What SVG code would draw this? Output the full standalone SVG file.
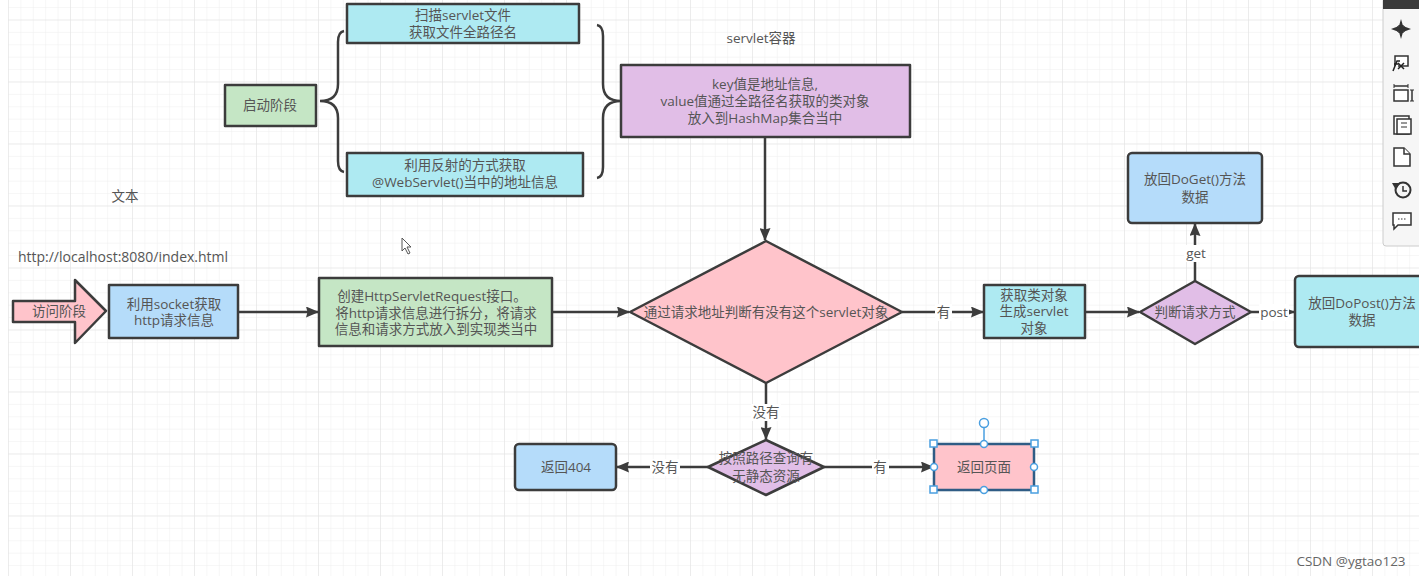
<svg xmlns="http://www.w3.org/2000/svg" width="1419" height="579" viewBox="0 0 1419 579">
<style>
text{font-family:"Open Sans","Noto Sans CJK SC",sans-serif;font-size:13.5px;fill:#555;text-anchor:middle}
.n{stroke:#3c3c3c;stroke-width:2.5;stroke-linejoin:round}
.g{fill:#c5e6c5}.c{fill:#aeeaf2}.b{fill:#b5dcfa}.p{fill:#e1bee7}.r{fill:#ffc4cb}
.l{fill:none;stroke:#3c3c3c;stroke-width:2.5}
.lb{fill:#fff}
.h{fill:#fff;stroke:#4a9fe0;stroke-width:1.5}
.i{fill:#fff;stroke:#333;stroke-width:1.5}
</style>
<defs>
<pattern id="minor" x="8" y="19.5" width="12.4" height="12.4" patternUnits="userSpaceOnUse"><path d="M0 0V12.4M0 0H12.4" fill="none" stroke="#eeeeee" stroke-width="1"/></pattern>
<pattern id="major" x="8" y="19.5" width="62" height="62" patternUnits="userSpaceOnUse"><path d="M0 0V62M0 0H62" fill="none" stroke="#e2e2e2" stroke-width="1"/></pattern>
<marker id="a" viewBox="0 0 13 11" refX="12" refY="5.5" markerWidth="13" markerHeight="11" markerUnits="userSpaceOnUse" orient="auto"><path d="M0 0L13 5.5L0 11L1.500 5.500Z" fill="#3c3c3c"/></marker>
</defs>
<rect width="1419" height="579" fill="#fff"/>
<rect x="8" y="0" width="1411" height="576" fill="url(#minor)"/>
<rect x="8" y="0" width="1411" height="576" fill="url(#major)"/>

<g id="connectors">
<path class="l" d="M344 31Q338 32 338 42V84Q338 101 320 101Q338 101 338 118V161Q338 171 344 172"/>
<path class="l" d="M597 25Q603 26 603 36V84Q603 101 621 101Q603 101 603 118V167Q603 177 597 178"/>
<path class="l" d="M765 137V240" marker-end="url(#a)"/>
<path class="l" d="M238 312H318" marker-end="url(#a)"/>
<path class="l" d="M552 312H629" marker-end="url(#a)"/>
<path class="l" d="M902 312H983" marker-end="url(#a)"/>
<path class="l" d="M1085 312H1139" marker-end="url(#a)"/>
<path class="l" d="M1195 281V224" marker-end="url(#a)"/>
<path class="l" d="M1251 312H1294" marker-end="url(#a)"/>
<path class="l" d="M766 383V439" marker-end="url(#a)"/>
<path class="l" d="M708 467H617" marker-end="url(#a)"/>
<path class="l" d="M824 467H933" marker-end="url(#a)"/>
<rect class="lb" x="935" y="304" width="17" height="17"/><text x="943.500" y="317">有</text>
<rect class="lb" x="1184" y="245" width="24" height="17"/><text x="1196" y="258">get</text>
<rect class="lb" x="1259" y="304" width="30" height="17"/><text x="1274" y="317">post</text>
<rect class="lb" x="751" y="404" width="30" height="17"/><text x="766" y="417">没有</text>
<rect class="lb" x="650" y="459" width="30" height="17"/><text x="665" y="472">没有</text>
<rect class="lb" x="872" y="459" width="17" height="17"/><text x="880" y="472">有</text>
</g>

<g id="text-servlet"><text x="761" y="43">servlet容器</text></g>
<g id="text-wenben"><text x="125" y="201">文本</text></g>
<g id="text-url"><text x="123" y="262" style="font-size:14px">http://localhost:8080/index.html</text></g>

<g id="start"><rect class="n g" x="225" y="85" width="91" height="41"/><text x="270" y="110">启动阶段</text></g>
<g id="scan"><rect class="n c" x="347" y="4" width="232" height="39"/><text x="463" y="20">扫描servlet文件</text><text x="463" y="37">获取文件全路径名</text></g>
<g id="reflect"><rect class="n c" x="347" y="153" width="236" height="43"/><text x="465" y="170">利用反射的方式获取</text><text x="465" y="187">@WebServlet()当中的地址信息</text></g>
<g id="container"><rect class="n p" x="621" y="65" width="289" height="72"/><text x="765" y="89">key值是地址信息,</text><text x="765" y="106">value值通过全路径名获取的类对象</text><text x="765" y="123">放入到HashMap集合当中</text></g>
<g id="visit"><path class="n r" d="M13 301H75V280L106 311L75 343V322H13Z"/><text x="59" y="316">访问阶段</text></g>
<g id="socket"><rect class="n b" x="109" y="285" width="129" height="53"/><text x="174" y="308.500">利用socket获取</text><text x="174" y="325">http请求信息</text></g>
<g id="request"><rect class="n g" x="319" y="278" width="233" height="68"/><text x="432" y="300.500">创建HttpServletRequest接口。</text><text x="436" y="317.500">将http请求信息进行拆分，将请求</text><text x="436" y="333.500">信息和请求方式放入到实现类当中</text></g>
<g id="judge"><path class="n r" d="M630 312L766 241L902 312L766 383Z"/><text x="766" y="317">通过请求地址判断有没有这个servlet对象</text></g>
<g id="getclass"><rect class="n c" x="984" y="285" width="101" height="53"/><text x="1034" y="300">获取类对象</text><text x="1034" y="316">生成servlet</text><text x="1034" y="333">对象</text></g>
<g id="method"><path class="n p" d="M1140 312L1195 281L1251 312L1195 344Z"/><text x="1195" y="317">判断请求方式</text></g>
<g id="doget"><rect class="n b" x="1128" y="153" width="134" height="70" rx="4"/><text x="1195" y="184">放回DoGet()方法</text><text x="1195" y="202">数据</text></g>
<g id="dopost"><rect class="n c" x="1295" y="276" width="132" height="71" rx="4"/><text x="1362" y="308">放回DoPost()方法</text><text x="1362" y="325">数据</text></g>
<g id="static"><path class="n p" d="M708 467L766 440L824 467L766 495Z"/><text x="766" y="463">按照路径查询有</text><text x="766" y="481">无静态资源</text></g>
<g id="r404"><rect class="n b" x="515" y="444" width="101" height="46" rx="4"/><text x="566" y="472">返回404</text></g>
<g id="page"><rect class="n r" style="stroke:#2f5c85" x="934" y="444" width="100" height="46"/><text x="984" y="472">返回页面</text>
<path d="M984 444V428" stroke="#4a9fe0" stroke-width="1.500"/><circle class="h" cx="984" cy="423" r="4.500"/>
<rect class="h" x="930" y="440" width="7" height="7"/><rect class="h" x="1031" y="440" width="7" height="7"/><rect class="h" x="930" y="486" width="7" height="7"/><rect class="h" x="1031" y="486" width="7" height="7"/>
<circle class="h" cx="984" cy="444" r="3.500"/><circle class="h" cx="984" cy="490" r="3.500"/><circle class="h" cx="934" cy="467" r="3.500"/><circle class="h" cx="1034" cy="467" r="3.500"/></g>

<g id="cursor"><path d="M402 238V251L405 248L408 254L410 253L407 247L411 247Z" fill="#fff" stroke="#555"/></g>
<g id="toolbar">
<rect x="1383" y="-2" width="40" height="248" rx="3" fill="#f6f6f6" stroke="#ccc"/>
<rect x="1383" y="0" width="36" height="9" fill="#3a3a3a"/>
<path d="M1401 19L1403 26L1411 29L1403 32L1401 39L1399 32L1391 29L1399 26Z" fill="#333"/><circle cx="1401" cy="29" r="4" fill="none" stroke="#333"/>
<path d="M1395 66V56H1408V66H1398" fill="#fff" stroke="#333" stroke-width="1.500"/><path d="M1393 71L1397 61H1400M1394 64H1399M1398 63L1404 69M1404 63L1398 69" fill="none" stroke="#222" stroke-width="1.500"/>
<rect class="i" x="1394" y="90" width="14" height="11"/><path d="M1394 86H1408M1412 90V101" stroke="#333" stroke-width="1.500"/><path d="M1394 84V88M1408 84V88M1410 90H1414M1410 101H1414" stroke="#333"/>
<rect class="i" x="1394" y="116" width="15" height="18"/><rect class="i" x="1397" y="119" width="14" height="15"/><path d="M1401 123H1407M1401 127H1407" stroke="#333"/>
<path class="i" d="M1394 148H1404L1410 154V166H1394Z"/><path class="i" d="M1404 148V154H1410"/>
<circle cx="1403" cy="190" r="7.500" fill="none" stroke="#333" stroke-width="2"/><path d="M1403 186V191H1407" fill="none" stroke="#333" stroke-width="1.500"/><path d="M1392 183H1400L1396 190Z" fill="#333"/>
<path class="i" d="M1393 213H1411V225H1398L1394 229V225H1393Z"/><path d="M1398 219H1406" stroke="#333" stroke-dasharray="1.500 1.500"/>
</g>
<g id="watermark"><text x="1351" y="566" style="fill:#666">CSDN @ygtao123</text></g>
</svg>
